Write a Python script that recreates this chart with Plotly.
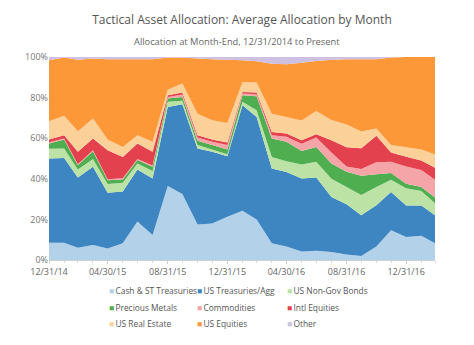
import plotly.graph_objects as go

# Month-end dates
months = [
    "2014-12-31", "2015-01-31", "2015-02-28", "2015-03-31", "2015-04-30", "2015-05-31",
    "2015-06-30", "2015-07-31", "2015-08-31", "2015-09-30", "2015-10-31", "2015-11-30",
    "2015-12-31", "2016-01-31", "2016-02-29", "2016-03-31", "2016-04-30", "2016-05-31",
    "2016-06-30", "2016-07-31", "2016-08-31", "2016-09-30", "2016-10-31", "2016-11-30",
    "2016-12-31", "2017-01-31", "2017-02-28",
]

# Average allocation (%) per asset class
cash_st = [8.5, 8.5, 6.0, 7.4, 5.7, 8.2, 19.0, 12.3, 36.4, 32.5, 17.5, 18.0, 21.3, 24.3,
           20.0, 8.2, 6.6, 4.2, 4.6, 4.0, 2.7, 2.0, 6.6, 14.6, 11.3, 12.0, 8.2]
us_treas = [41.5, 41.7, 34.7, 38.5, 27.4, 25.6, 25.6, 27.9, 39.0, 44.2, 37.4, 35.3, 29.8, 51.9,
            50.5, 36.9, 36.8, 36.0, 36.1, 27.0, 24.8, 20.0, 20.4, 18.9, 15.5, 14.8, 13.8]
non_gov = [4.8, 4.7, 3.9, 3.8, 4.3, 4.2, 2.9, 3.7, 2.5, 1.7, 1.7, 1.1, 1.0, 1.7,
           3.3, 5.7, 5.3, 6.8, 7.7, 9.0, 8.5, 10.0, 9.0, 6.0, 8.5, 7.2, 6.0]
precious = [2.6, 4.4, 2.1, 3.9, 1.9, 1.7, 1.7, 2.0, 1.6, 1.9, 2.1, 2.2, 2.3, 3.2,
            6.9, 9.0, 9.5, 6.7, 7.3, 7.5, 7.5, 9.5, 6.3, 3.3, 2.2, 2.0, 2.8]
commod = [0.6, 0.5, 0.5, 0.5, 0.5, 0.6, 0.5, 0.7, 0.8, 1.2, 1.6, 1.6, 2.2, 0.9,
          0.9, 1.7, 2.5, 3.6, 4.6, 5.5, 2.5, 3.3, 5.9, 5.6, 8.5, 8.3, 8.7]
intl_eq = [1.3, 1.7, 6.1, 5.7, 14.3, 10.5, 7.7, 6.7, 0.8, 1.0, 1.2, 1.1, 1.3, 0.8,
           0.9, 1.6, 1.6, 1.7, 1.7, 6.0, 9.5, 10.2, 13.0, 4.6, 4.9, 4.7, 6.0]
real_est = [9.1, 9.5, 10.1, 9.9, 5.2, 4.9, 4.1, 4.9, 2.8, 4.4, 10.6, 9.6, 9.6, 4.9,
            4.9, 9.0, 8.2, 9.7, 11.4, 10.0, 11.3, 8.3, 3.6, 3.6, 4.7, 5.4, 6.5]
us_eq = [30.0, 28.7, 35.3, 29.6, 39.6, 43.2, 37.4, 40.7, 15.8, 12.8, 27.1, 30.0, 31.2, 10.7,
         10.5, 24.6, 25.9, 28.5, 24.6, 29.7, 32.1, 35.6, 34.1, 43.1, 44.4, 45.6, 48.0]
other = [1.6, 0.3, 1.3, 0.7, 1.1, 1.1, 1.1, 1.1, 0.3, 0.3, 0.8, 1.1, 1.3, 1.6,
         2.1, 3.3, 3.6, 2.8, 2.0, 1.3, 1.1, 1.1, 1.1, 0.3, 0.0, 0.0, 0.0]

series_names = ["Cash & ST Treasuries", "US Treasuries/Agg", "US Non-Gov Bonds",
                "Precious Metals", "Commodities", "Intl Equities",
                "US Real Estate", "US Equities", "Other"]
series_values = [cash_st, us_treas, non_gov, precious, commod, intl_eq, real_est, us_eq, other]
series_colors = ["#b3d1e9", "#3d86c2", "#bde2a6", "#4fae4f", "#f5a5a7",
                 "#e3414d", "#fcd099", "#fc9838", "#cdc0e0"]

tick_dates = months[::4]
tick_text = ["12/31/14", "04/30/15", "08/31/15", "12/31/15", "04/30/16", "08/31/16", "12/31/16"]
y_ticks = [0, 20, 40, 60, 80, 100]
y_text = [f"{v}%" for v in y_ticks]

fig = go.Figure()
for name, vals, color in zip(series_names, series_values, series_colors):
    fig.add_trace(go.Scatter(
        x=months, y=vals, name=name, mode="none",
        stackgroup="alloc", fillcolor=color, line=dict(width=0),
        showlegend=False,
    ))

FONT = "Open Sans"
L, R_, T, B = 49, 39, 57, 85
W, H = 474, 345
pw, ph = W - L - R_, H - T - B


def px_x(x):
    return (x - L) / pw


def px_y(y):
    return (T + ph - y) / ph


# Legend built as three rows of three entries
col_x = [107, 195, 285]
row_y = [290, 307, 323]
annotations = []
for k, (name, color) in enumerate(zip(series_names, series_colors)):
    r, c = divmod(k, 3)
    annotations.append(dict(
        text=f'<span style="color:{color}">\u25A0</span>\u2009{name}',
        x=px_x(col_x[c]), y=px_y(row_y[r]),
        xref="paper", yref="paper", xanchor="left", yanchor="middle",
        showarrow=False, font=dict(size=8.4, color="#555555", family=FONT),
    ))

# Subtitle
annotations.append(dict(
    text="Allocation at Month-End, 12/31/2014 to Present",
    x=px_x(W / 2), y=px_y(41), xref="paper", yref="paper",
    xanchor="center", yanchor="middle", showarrow=False,
    font=dict(size=9.3, color="#666666", family=FONT),
))

fig.update_layout(
    width=W, height=H,
    margin=dict(l=L, r=R_, t=T, b=B),
    paper_bgcolor="white", plot_bgcolor="white",
    font=dict(family=FONT, color="#666666"),
    title=dict(
        text="Tactical Asset Allocation: Average Allocation by Month",
        x=0.5, xref="paper", xanchor="center",
        y=1 - 20 / H, yref="container", yanchor="middle",
        font=dict(size=12, color="#555555", family=FONT),
    ),
    xaxis=dict(
        range=[months[0], months[-1]],
        tickvals=tick_dates, ticktext=tick_text,
        tickfont=dict(size=9, color="#666666"),
        showgrid=False, showline=True, linecolor="#d0d0d0", linewidth=1,
        ticks="outside", ticklen=3, tickcolor="#d0d0d0",
        minor=dict(tickvals=months, ticks="outside", ticklen=2, tickcolor="#d8d8d8"),
        zeroline=False,
    ),
    yaxis=dict(
        range=[0, 100], tickvals=y_ticks, ticktext=y_text,
        tickfont=dict(size=9, color="#777777"),
        showgrid=False, zeroline=False, showline=False,
    ),
    annotations=annotations,
    showlegend=False,
)

fig.write_html("out.html")
